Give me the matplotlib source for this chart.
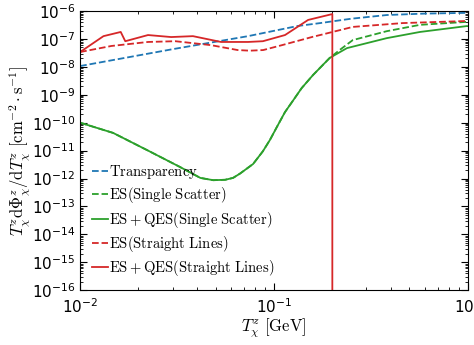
import numpy as np
import matplotlib
matplotlib.use('Agg')
import matplotlib.pyplot as plt
from matplotlib.ticker import LogLocator, NullFormatter
from matplotlib.font_manager import FontProperties

# Transparency
x_tr = [0.01, 0.03, 0.0735, 0.132, 0.173, 0.25, 0.382, 0.6, 0.99]
y_tr = [1.07e-8, 4.3e-8, 1.26e-7, 2.9e-7, 3.7e-7, 5.3e-7, 7.2e-7, 8.1e-7, 8.6e-7]

# ES + QES (single scatter), solid green
x_gs = [0.01, 0.0148, 0.0221, 0.0327, 0.0417, 0.0486, 0.056, 0.0615, 0.0668, 0.078,
        0.0877, 0.0953, 0.1035, 0.114, 0.125, 0.139, 0.159, 0.194, 0.238,
        0.382, 0.566, 0.99]
y_gs = [1.0e-10, 4.3e-11, 1.05e-11, 2.6e-12, 1.05e-12, 8.7e-13, 9.0e-13, 1.05e-12,
        1.5e-12, 3.3e-12, 9.5e-12, 2.4e-11, 7.0e-11, 2.4e-10, 6.0e-10, 1.74e-9,
        5.1e-9, 2.1e-8, 4.7e-8, 1.07e-7, 1.78e-7, 2.9e-7]

# ES (single scatter), dashed green: follows the solid one up to ~0.2
x_gd = x_gs[:18] + [0.22, 0.255, 0.382, 0.566, 0.99]
y_gd = y_gs[:18] + [4.2e-8, 9.1e-8, 1.9e-7, 3.2e-7, 4.1e-7]

# ES (straight lines), dashed red
x_rd = [0.01, 0.0145, 0.0224, 0.031, 0.0473, 0.065, 0.075, 0.088, 0.11, 0.159,
        0.173, 0.255, 0.46, 0.99]
y_rd = [3.4e-8, 5.6e-8, 7.8e-8, 8.3e-8, 6.0e-8, 4.0e-8, 3.8e-8, 4.0e-8, 6.0e-8,
        1.2e-7, 1.38e-7, 2.7e-7, 3.7e-7, 4.4e-7]

# ES + QES (straight lines), solid red, cut off at 0.2 GeV
x_rs = [0.01, 0.0132, 0.0162, 0.0171, 0.0224, 0.0295, 0.0382, 0.0533, 0.0735,
        0.0877, 0.114, 0.15, 0.2, 0.2]
y_rs = [3.4e-8, 1.26e-7, 1.78e-7, 8.3e-8, 1.38e-7, 1.17e-7, 1.26e-7, 7.8e-8,
        7.8e-8, 8.3e-8, 1.38e-7, 4.8e-7, 7.8e-7, 1e-20]

labels = [r'$\mathrm{Transparency}$',
          r'$\mathrm{ES(Single\ Scatter)}$',
          r'$\mathrm{ES+QES(Single\ Scatter)}$',
          r'$\mathrm{ES(Straight\ Lines)}$',
          r'$\mathrm{ES+QES(Straight\ Lines)}$']

BLUE = '#1f77b4'
GREEN = '#2ca02c'
RED = '#d62728'


def plot():
    fig = plt.figure(figsize=(4.74, 3.45), dpi=100)
    ax = fig.add_axes([0.169, 0.159, 0.818, 0.809])

    ax.plot(x_tr, y_tr, '--', color=BLUE, lw=1.3, label=labels[0])
    ax.plot(x_gd, y_gd, '--', color=GREEN, lw=1.3, label=labels[1])
    ax.plot(x_gs, y_gs, '-', color=GREEN, lw=1.3, label=labels[2])
    ax.plot(x_rd, y_rd, '--', color=RED, lw=1.3, label=labels[3])
    ax.plot(x_rs, y_rs, '-', color=RED, lw=1.3, label=labels[4])

    ax.set_xscale('log')
    ax.set_yscale('log')
    ax.set_xlim(1e-2, 1)
    ax.set_ylim(1e-16, 1e-6)

    ax.yaxis.set_major_locator(LogLocator(base=10, numticks=20))
    ax.yaxis.set_minor_locator(LogLocator(base=10, subs=np.arange(2, 10), numticks=200))
    ax.yaxis.set_minor_formatter(NullFormatter())
    ax.tick_params(which='both', direction='in', top=True, right=True, labelsize=11)
    ax.tick_params(which='major', length=5)
    ax.tick_params(which='minor', length=2.5)
    ax.tick_params(axis='x', pad=5)

    cm = FontProperties(math_fontfamily='cm', size=12)
    ax.set_xlabel(r'$T_\chi^z\ [\mathrm{GeV}]$', fontproperties=cm, labelpad=1)
    ax.set_ylabel(r'$T_\chi^z\mathrm{d}\Phi_\chi^z/\mathrm{d}T_\chi^z\ [\mathrm{cm}^{-2}\cdot\mathrm{s}^{-1}]$',
                  fontproperties=cm, labelpad=0)

    ax.legend(loc='lower left', frameon=False, handlelength=1.1, handletextpad=0.1,
              labelspacing=0.3, borderaxespad=0.4,
              prop=FontProperties(math_fontfamily='cm', size=10.5))

    fig.savefig('out.png', dpi=100)


def main():
    plot()
    return 0


if __name__ == "__main__":
    main()
